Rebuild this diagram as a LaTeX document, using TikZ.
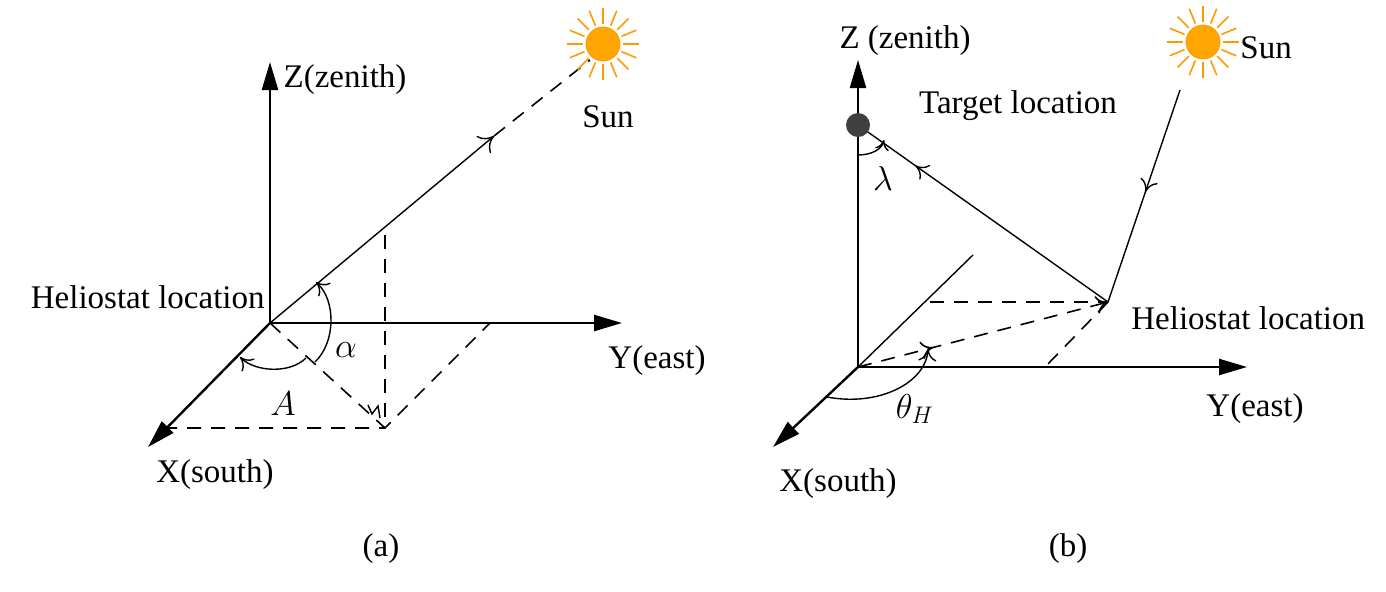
\documentclass[tikz,border=0pt]{standalone}
\usepackage{fontspec}
\setmainfont{Liberation Serif}
\usetikzlibrary{arrows.meta,decorations.markings}
\begin{document}
\begin{tikzpicture}[x=0.5pt,y=-0.5pt,
  axis/.style={line width=1.2pt,-{Triangle[length=14pt,width=8pt]}},
  ln/.style={line width=0.7pt},
  dsh/.style={line width=0.8pt,dash pattern=on 7pt off 5pt},
  lab/.style={font=\fontsize{16.5}{18}\selectfont,inner sep=0pt},
  midto/.style={postaction={decorate},decoration={markings,mark=at position #1 with {\arrow{To[length=6pt,width=9pt]}}}},
  sunc/.style={fill=orange!70!yellow,draw=orange!80!yellow}]
\useasboundingbox (0,0) rectangle (1386,591);
% ---------- (a)
\coordinate (O) at (270,323);
\coordinate (Z) at (270,62);
\coordinate (Y) at (622,323);
\coordinate (X) at (148,447);
\coordinate (S) at (494,136);
\coordinate (Sf) at (590,60);
\coordinate (V) at (385,235);
\coordinate (P) at (385,428);
\coordinate (Q) at (163,428);
\coordinate (R) at (490,323);
\draw[axis] (O) -- (Z);
\draw[axis] (O) -- (Y);
\draw[axis] (O) -- (X);
\draw[ln,-{To[length=7pt,width=11pt]}] (O) -- (S);
\draw[dsh] (S) -- (Sf);
\draw[dsh] (V) -- (P);
\draw[dsh] (Q) -- (P) -- (R);
\draw[dsh] (O) -- (P);
\draw[ln] (368,405) -- (372,414) -- (378,406) -- (380,418);
\draw[ln,-{To[length=6pt,width=9pt]}] (315,362) .. controls (336,342) and (336,300) .. (316,282);
\draw[ln,-{To[length=6pt,width=9pt]}] (306,358) .. controls (290,374) and (255,372) .. (240,357);
\node[lab] (la) at (346,350) {$\alpha$};
\node[lab] (lA) at (283,404) {$A$};
\node[lab] (lz) at (345,80) {Z(zenith)};
\node[lab] (ly) at (657,361) {Y(east)};
\node[lab] (lx) at (215,475) {X(south)};
\node[lab,anchor=east] (lh) at (265,297) {Heliostat location};
\node[lab] (ls) at (608,117) {Sun};
\node[lab] (cap1) at (381,549) {(a)};
\begin{scope}[shift={(603,44)}]
\foreach \a in {0,22.5,...,359} \draw[orange!80!yellow,line width=0.8pt] (\a:20) -- (\a:36);
\draw[sunc] (0,0) circle[radius=17];
\end{scope}
% ---------- (b)
\coordinate (O2) at (858,367);
\coordinate (Z2) at (858,60);
\coordinate (Y2) at (1247,367);
\coordinate (X2) at (773,447);
\coordinate (T) at (858,125);
\coordinate (H) at (1108,302);
\coordinate (S2) at (1180,90);
\coordinate (L) at (973,255);
\draw[axis] (O2) -- (Z2);
\draw[axis] (O2) -- (Y2);
\draw[axis] (O2) -- (X2);
\draw[ln,midto=0.77] (H) -- (T);
\draw[ln,midto=0.48] (S2) -- (H);
\draw[ln] (O2) -- (L);
\draw[dsh] (930,302) -- (H);
\draw[dsh,midto=0.3,-{To[length=6pt,width=9pt]}] (O2) -- (H);
\draw[dsh] (H) -- (1045,367);
\fill[gray!50!black] (T) circle[radius=12];
\draw[ln,-{To[length=5pt,width=7pt]}] (858,155) .. controls (872,155) and (882,149) .. (884,140);
\draw[ln,-{To[length=6pt,width=9pt]}] (827,397) .. controls (880,407) and (926,382) .. (928,349);
\node[lab] (ll) at (883,178) {$\lambda$};
\node[lab] (lt) at (915,409) {$\theta_H$};
\node[lab] (lz2) at (905,41) {Z (zenith)};
\node[lab] (lt2) at (1018,106) {Target location};
\node[lab] (ly2) at (1255,409) {Y(east)};
\node[lab] (lx2) at (838,484) {X(south)};
\node[lab,anchor=west] (lh2) at (1131,318) {Heliostat location};
\node[lab,anchor=west] (ls2) at (1240,48) {Sun};
\node[lab] (cap2) at (1068,549) {(b)};
\begin{scope}[shift={(1203,42)}]
\foreach \a in {0,22.5,...,359} \draw[orange!80!yellow,line width=0.8pt] (\a:20) -- (\a:36);
\draw[sunc] (0,0) circle[radius=17];
\end{scope}
\end{tikzpicture}
\end{document}
